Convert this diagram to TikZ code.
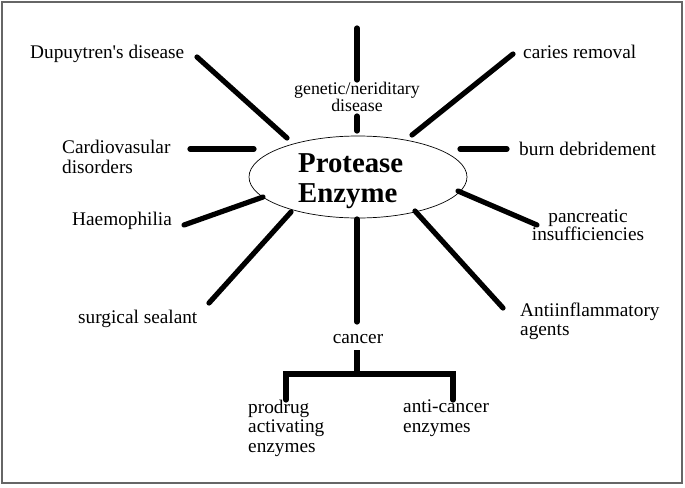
\documentclass[tikz,border=0pt]{standalone}
\usepackage{fontspec}
\setmainfont{Liberation Serif}
\usetikzlibrary{shapes.geometric}
\begin{document}
\begin{tikzpicture}[x=1pt,y=-1pt,
  spoke/.style={line width=5.2pt, line cap=round, line join=miter},
  lbl/.style={inner sep=0pt, font=\fontsize{19.3}{20}\selectfont},
  frame/.style={draw=black!60, line width=1.6pt}]
\useasboundingbox (0,0) rectangle (685,487);
\draw[frame] (2,2) rectangle (682,483);
% central ellipse
\node[draw, ellipse, minimum width=218, minimum height=82, line width=0.7pt, inner sep=0pt] (E) at (358,177) {};
\node[inner sep=0pt, anchor=base west, align=left, font=\bfseries\fontsize{28.8}{30}\selectfont] (T) at (298,202) {Protease\\Enzyme};
% labels
\node[lbl, anchor=base west] (dup) at (30,59) {Dupuytren\textquotesingle s disease};
\node[lbl, anchor=base west] (car) at (523,59) {caries removal};
\node[inner sep=0pt, anchor=base, align=center, font=\fontsize{17.8}{16.5}\selectfont] (gen) at (357,111) {genetic/neriditary\\disease};
\node[lbl, anchor=base west, align=left] (cv) at (62,173) {Cardiovasular\\disorders};
\node[lbl, anchor=base west] (burn) at (519,155) {burn debridement};
\node[lbl, anchor=base west] (hae) at (72,225) {Haemophilia};
\node[lbl, anchor=base west] (sur) at (78,323) {surgical sealant};
\node[lbl, anchor=base, align=center, font=\fontsize{19.3}{18}\selectfont] (pan) at (588,240) {pancreatic\\insufficiencies};
\node[lbl, anchor=base west, align=left, font=\fontsize{19.3}{18.5}\selectfont] (anti) at (520,335) {Antiinflammatory\\agents};
\node[lbl, anchor=base] (can) at (358,343) {cancer};
\node[lbl, anchor=base west, align=left, font=\fontsize{19.3}{19.5}\selectfont] (pro) at (248,452) {prodrug\\activating\\enzymes};
\node[lbl, anchor=base west, align=left, font=\fontsize{19.3}{19.5}\selectfont] (ac) at (403,432) {anti-cancer\\enzymes};
% connector end points
\coordinate (genA) at (357,28);  \coordinate (genB) at (357,80);
\coordinate (genC) at (357,116); \coordinate (genD) at (357,131);
\coordinate (dupA) at (197,57);  \coordinate (dupB) at (287,138);
\coordinate (carA) at (513,54);  \coordinate (carB) at (412,135);
\coordinate (cvA) at (190,149);  \coordinate (cvB) at (254,149);
\coordinate (burnA) at (460,149); \coordinate (burnB) at (507,149);
\coordinate (haeA) at (184,225); \coordinate (haeB) at (263,197);
\coordinate (surA) at (209,303); \coordinate (surB) at (291,212);
\coordinate (panA) at (458,191); \coordinate (panB) at (537,225);
\coordinate (antiA) at (415,211); \coordinate (antiB) at (503,308);
\coordinate (canA) at (357,219); \coordinate (canB) at (357,322);
\coordinate (canC) at (357,350); \coordinate (canD) at (357,374);
\coordinate (proA) at (286,374); \coordinate (proB) at (286,400);
\coordinate (acA) at (453,374);  \coordinate (acB) at (453,400);
% spokes
\draw[spoke] (genA) -- (genB);
\draw[spoke] (genC) -- (genD);
\draw[spoke] (dupA) -- (dupB);
\draw[spoke] (carA) -- (carB);
\draw[spoke] (cvA) -- (cvB);
\draw[spoke] (burnA) -- (burnB);
\draw[spoke] (haeA) -- (haeB);
\draw[spoke] (surA) -- (surB);
\draw[spoke] (panA) -- (panB);
\draw[spoke] (antiA) -- (antiB);
\draw[spoke] (canA) -- (canB);
\draw[spoke, line cap=butt] (canC) -- (canD);
\draw[spoke] (proB) -- (proA) -- (acA) -- (acB);
\end{tikzpicture}
\end{document}
